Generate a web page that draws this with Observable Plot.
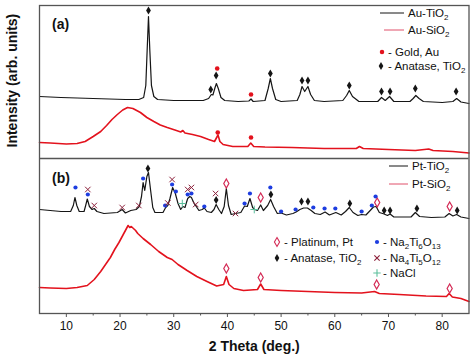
<!DOCTYPE html>
<html><head><meta charset="utf-8">
<script src="https://cdn.jsdelivr.net/npm/d3@7"></script>
<script src="https://cdn.jsdelivr.net/npm/@observablehq/plot@0.6"></script>
<style>body{margin:0;background:#fff}svg{display:block}</style>
</head><body><div id="chart"></div>
<script>
// ---- data: [2θ (deg), intensity (arb. units, stacked offsets)] ----
const auTiO2 = [[5,217],[7,216.5],[9,216],[12,215.5],[15,215],[18,214.5],[21,214],[23.5,214],[24.4,216],[24.8,228],[25.05,263],[25.3,297],[25.55,263],[25.85,228],[26.3,217],[27,214],[30,213],[33,213],[35.5,213],[36.5,215],[37.0,219],[37.3,218.5],[37.7,226],[37.95,230],[38.3,225],[38.8,216],[39.5,213],[42,212],[44,212.5],[44.4,214.5],[44.8,212],[47,213],[47.6,225],[48.0,235],[48.4,225],[49.0,214],[50,212],[53,213],[53.5,219],[53.9,227],[54.4,222],[55.0,227],[55.5,219],[56.2,213],[58,212],[61.5,213],[62.2,218],[62.7,223],[63.3,217],[64.5,212],[68,212],[68.7,216],[69.4,213],[70.2,217],[71,212],[74,212],[74.6,215],[75.1,218],[75.7,215],[76.5,212],[80,211],[82,212],[82.7,215],[83.5,211.5],[85,210]];
const auSiO2 = [[5,171],[7,170.5],[10,169.5],[12,170],[13.5,172],[15,177],[16.4,182],[17.5,188],[18.5,194],[19.5,199],[20.5,203.5],[21.4,206],[22.4,205],[23.8,201],[25,196],[26.3,192],[27.5,188.5],[28.8,186],[30.5,183],[31.3,181.5],[31.7,183],[32.1,180.5],[33.5,179],[35,177],[36.5,174],[37.6,172],[38.0,176],[38.25,178.5],[38.6,172],[39.2,169],[41,167],[43.8,167],[44.35,170.5],[44.9,167],[47,166.5],[52,166],[58,165],[64,165],[64.6,167],[65.3,165],[70,164],[75,163],[77.5,164.5],[78.3,163],[82,162],[85,160.5]];
const ptTiO2 = [[5,104],[7,103],[9,102],[10.8,102],[11.3,108],[11.6,116],[11.95,108],[12.4,102],[13.3,102],[13.6,108],[13.9,114.5],[14.3,107],[14.8,104],[15.2,105],[15.7,102],[17,100],[19.5,101],[20.4,104],[21,100.5],[22,103],[23,104],[23.6,107],[24.0,117],[24.3,131],[24.6,123],[25.0,137],[25.3,141],[25.7,123],[26.1,106],[26.5,101],[28.0,101],[28.5,106],[28.9,108],[29.3,115],[29.8,126],[30.3,120],[30.8,110],[31.3,104],[31.7,107],[32.1,106],[32.6,115],[33.0,117],[33.3,116],[33.8,110],[34.2,107],[34.7,103],[35.3,104],[35.7,105.5],[36.2,102],[37.0,101],[37.5,104],[37.9,109],[38.4,104],[38.9,100],[39.4,107],[39.8,125],[40.2,108],[40.7,99],[41.5,100],[42.5,101],[43.2,107.5],[43.7,107],[44.2,115],[44.7,106],[45.1,104],[45.6,103],[46.2,108.5],[46.7,103],[47.5,108],[48.05,114],[48.6,107],[49.3,100],[50,100.5],[51,98.5],[52.2,100],[52.8,101.5],[53.5,104],[54.2,105.5],[54.9,105.5],[55.6,103],[56.3,100],[57.3,99],[58.2,101.5],[59,98.5],[60.2,101],[61.2,98.5],[62.0,102],[62.7,106],[63.4,101],[64.3,98],[65.0,99],[65.8,98.5],[66.6,103],[67.2,106.5],[67.7,107],[68.3,101],[69.2,99.5],[69.8,98],[70.3,99.5],[71,96.5],[74.2,96.5],[75.0,101],[75.8,97],[78,96],[80.5,96.5],[81.3,100],[82.0,97.5],[82.7,99],[83.5,96.5],[85,95]];
const ptSiO2 = [[5,26],[7,25.5],[10,25],[12,26],[13.9,28],[15.2,34],[16.4,42],[17.3,49],[18.2,56],[19.0,64],[19.8,71],[20.6,79],[21.1,84],[21.5,88],[21.8,86],[22.1,87],[22.5,85],[22.9,83],[23.3,80],[24.3,75],[25.7,69],[27.2,62],[28.8,56],[29.7,54],[30.8,49],[32.5,43],[34.3,37],[36.2,32],[38.0,27.5],[39.3,29],[39.8,37],[40.3,29],[41.2,25],[43,23],[45.6,24],[46.2,29.5],[46.8,24],[50,23],[55,22],[60,21],[65,20.5],[67.4,22],[68.3,20],[72,19],[77,17.5],[80.8,17],[81.3,20],[81.9,16.5],[83.5,15],[85,12]];

// phase markers [2θ, intensity]
const anataseA = [[25.3,303],[36.9,224],[37.9,238],[48.0,240],[53.9,233],[55.0,233],[62.7,228],[68.7,222],[70.3,222],[75.0,225],[82.6,222]];
const goldA = [[38.1,245],[44.4,219],[38.2,181],[44.4,176]];
const anataseB = [[25.2,145],[37.9,113.5],[48.1,119],[53.8,112],[55.0,112],[62.8,110],[69.2,103],[70.3,103],[75.3,105],[82.8,103]];
const platinumB = [[39.8,130],[46.2,116],[67.9,111],[81.4,107],[39.8,45],[46.2,36],[67.8,29],[81.4,25]];
const na2Ti6O13 = [[11.7,126],[14.0,119],[24.3,135],[28.4,108],[29.7,129],[30.4,122],[32.6,119],[33.3,120],[35.7,107],[43.2,110],[44.2,120],[48.0,126],[50.0,102],[52.7,104],[56.0,106],[58.1,105],[60.1,105],[65.0,102],[66.9,108],[67.6,117]];
const na4Ti5O12 = [[14.0,124],[15.2,108],[20.4,106],[23.5,108],[28.9,110.5],[29.7,134],[32.6,124],[33.3,126],[34.1,109],[37.8,120],[41.5,100]];
const nacl = [[31.6,110],[45.0,104]];

const majorTicks = [10,20,30,40,50,60,70,80];
const minorTicks = [15,25,35,45,55,65,75];
const panelBreak = 155;

const seriesNames = ["Au-TiO_2","Au-SiO_2","Pt-TiO_2","Pt-SiO_2"];
const phaseLabels = ["- Gold, Au","- Anatase, TiO_2","- Platinum, Pt","- Na_2Ti_6O_13","- Na_4Ti_5O_12","- NaCl"];

// ---- build ----
const BLACK = "#151515", RED = "#e3121d", PTRED = "#d42a55", BLUE = "#1d3de0", MAROON = "#8c1f3a", GREEN = "#5cbf9c", FRAME = "#555";
const rows = [];
[[auTiO2,"Au-TiO2"],[auSiO2,"Au-SiO2"],[ptTiO2,"Pt-TiO2"],[ptSiO2,"Pt-SiO2"]].forEach(([arr,name]) => arr.forEach(([t,i]) => rows.push({name,t,i})));
const colorOf = {"Au-TiO2":BLACK,"Au-SiO2":RED,"Pt-TiO2":BLACK,"Pt-SiO2":RED};
const FONT = "Liberation Sans, Arial, Helvetica, sans-serif";

const svg = Plot.plot({
  width: 474, height: 361,
  marginLeft: 39, marginRight: 5.5, marginTop: 5, marginBottom: 48,
  style: {fontFamily: FONT, background: "white", color: "#111"},
  x: {domain: [5, 85]},
  y: {domain: [0, 308], axis: null},
  marks: [
    Plot.line(rows, {x: "t", y: "i", z: "name", stroke: d => colorOf[d.name], strokeWidth: d => d.name.includes("Si") ? 1.6 : 1.2, strokeLinejoin: "round"}),
    Plot.dot(anataseA, {x: d => d[0], y: d => d[1], symbol: "diamond", r: 2.5, fill: BLACK, stroke: "none"}),
    Plot.dot(goldA, {x: d => d[0], y: d => d[1], r: 2.3, fill: RED, stroke: "none"}),
    Plot.dot(anataseB, {x: d => d[0], y: d => d[1], symbol: "diamond", r: 2.5, fill: BLACK, stroke: "none"}),
    Plot.dot(platinumB, {x: d => d[0], y: d => d[1], symbol: "diamond", r: 2.7, fill: "none", stroke: PTRED, strokeWidth: 1.2}),
    Plot.dot(na2Ti6O13, {x: d => d[0], y: d => d[1], r: 2.1, fill: BLUE, stroke: "none"}),
    Plot.dot(na4Ti5O12, {x: d => d[0], y: d => d[1], symbol: "times", r: 2.6, stroke: MAROON, strokeWidth: 1}),
    Plot.dot(nacl, {x: d => d[0], y: d => d[1], symbol: "plus", r: 2.6, stroke: GREEN, strokeWidth: 1}),
    Plot.ruleY([panelBreak], {stroke: FRAME, strokeWidth: 1.3}),
    Plot.frame({stroke: FRAME, strokeWidth: 1.3}),
    Plot.axisX({ticks: majorTicks, tickSize: 4, tickPadding: 4, fontSize: 12, stroke: FRAME, label: null, tickFormat: d => String(d)}),
    Plot.axisX({ticks: minorTicks, tickSize: 2.5, stroke: FRAME, label: null, tickFormat: () => ""}),
    Plot.text(["2 Theta (deg.)"], {frameAnchor: "bottom", dy: 37.5, fontSize: 14, fontWeight: "bold", fill: "#111"}),
    Plot.text(["Intensity (arb. units)"], {frameAnchor: "left", rotate: -90, dx: -27, dy: -12, fontSize: 14, fontWeight: "bold", fill: "#111"}),
    Plot.text(["(a)"], {frameAnchor: "top-left", dx: 12.5, dy: 14, fontSize: 14, fontWeight: "bold", fill: "#111"}),
    Plot.text(["(b)"], {frameAnchor: "top-left", dx: 12.5, dy: 168, fontSize: 14, fontWeight: "bold", fill: "#111"})
  ]
});

// ---- legends (with real subscripts) ----
function rich(sel, str) {
  const parts = str.split(/_(\d+)/);
  parts.forEach((p, k) => {
    if (!p) return;
    if (k % 2 === 1) sel.append("tspan").attr("font-size", 8).attr("dy", 3).text(p);
    else sel.append("tspan").attr("dy", k === 0 ? 0 : -3).text(p);
  });
}
const lg = d3.select(svg).append("g").attr("font-family", FONT).attr("font-size", 11.5).attr("fill", "#111").attr("text-anchor", "start");
function lineItem(label, color, x1, x2, y, tx) {
  lg.append("line").attr("x1", x1).attr("x2", x2).attr("y1", y).attr("y2", y).attr("stroke", color).attr("stroke-width", 1);
  rich(lg.append("text").attr("x", tx).attr("y", y + 4), label);
}
function symItem(label, sym, size, fill, stroke, x, y, tx) {
  lg.append("path").attr("d", d3.symbol(sym, size)()).attr("transform", `translate(${x},${y})`)
    .attr("fill", fill).attr("stroke", stroke).attr("stroke-width", stroke === "none" ? 0 : 1.1);
  rich(lg.append("text").attr("x", tx).attr("y", y + 4), label);
}
lineItem(seriesNames[0], BLACK, 380, 404, 13, 408);
lineItem(seriesNames[1], "#e0506a", 384, 404, 30, 408);
symItem(phaseLabels[0], d3.symbolCircle, 16, RED, "none", 382, 52, 388);
symItem(phaseLabels[1], d3.symbolDiamond, 19, BLACK, "none", 381, 66, 388);
lineItem(seriesNames[2], BLACK, 389, 408, 166, 412);
lineItem(seriesNames[3], "#e0506a", 389, 408, 184, 412);
symItem(phaseLabels[2], d3.symbolDiamond, 23, "none", PTRED, 277, 242, 284);
symItem(phaseLabels[1], d3.symbolDiamond, 19, BLACK, "none", 277, 258, 284);
symItem(phaseLabels[3], d3.symbolCircle, 14, BLUE, "none", 377, 242, 383);
symItem(phaseLabels[4], d3.symbolTimes, 20, "none", MAROON, 377, 258, 383);
symItem(phaseLabels[5], d3.symbolPlus, 20, "none", GREEN, 377, 273, 383);

document.getElementById("chart").appendChild(svg);
</script>
</body></html>
